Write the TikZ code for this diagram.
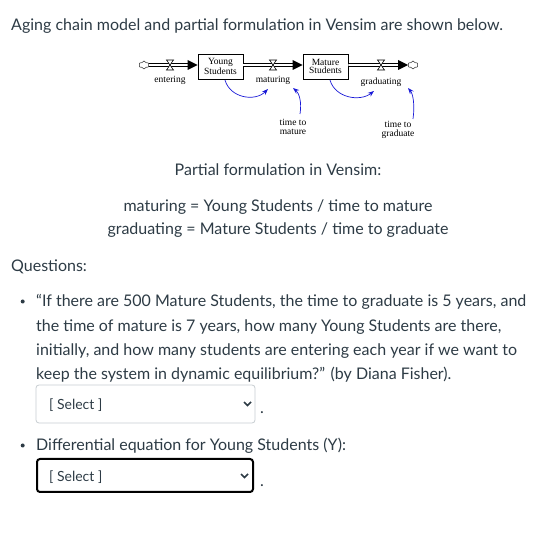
\documentclass[tikz,border=0pt]{standalone}
\usepackage{fontspec}
\setmainfont{Lato}
\newfontfamily\vensim{Liberation Serif}
\usetikzlibrary{arrows.meta, shapes.symbols, positioning}
\definecolor{ink}{HTML}{2D3B45}
\definecolor{linkblue}{RGB}{25,25,215}
\definecolor{selgray}{HTML}{C7CDD1}

\begin{document}
\begin{tikzpicture}[x=1pt, y=1pt, >=Stealth,
        txt/.style={anchor=base west, inner sep=0pt, text=ink, font=\fontsize{16}{19}\selectfont},
        ctxt/.style={txt, anchor=base},
        stock/.style={draw, line width=0.8pt, minimum width=45pt, minimum height=25pt, inner sep=0pt, align=center, font=\vensim\fontsize{9.5}{8.5}\selectfont},
        lbl/.style={inner sep=0pt, align=center, font=\vensim\fontsize{9.5}{9}\selectfont},
        puff/.style={cloud, draw, cloud puffs=6, minimum width=10pt, minimum height=8pt, inner sep=0pt},
        pipe/.style={double, double distance=1.8pt, line width=0.9pt},
        link/.style={->, linkblue, line width=0.7pt},
        selbox/.style={draw=selgray, rounded corners=3pt, line width=0.8pt},
        valve/.pic={\filldraw[fill=white, line width=0.6pt] (-3.5,5) -- (3.5,5) -- (-3.5,-5) -- (3.5,-5) -- cycle;}]
    \useasboundingbox (0,0) rectangle (555,-537);

    % intro
    \node[txt] (intro) at (11,-31) {Aging chain model and partial formulation in Vensim are shown below.};

    % stock and flow diagram
    \node[stock] (young) at (220.5,-66.5) {Young\\Students};
    \node[stock] (mature) at (325.5,-66.5) {Mature\\Students};
    \node[puff] (srcl) at (144,-65) {};
    \node[puff] (sink) at (413,-65) {};
    \coordinate (ventr) at (170,-65);
    \coordinate (vmat) at (273,-65);
    \coordinate (vgrad) at (381,-65);

    \draw[pipe] (srcl.east) -- ([xshift=-8pt]young.west |- ventr);
    \draw[pipe] (young.east |- vmat) -- ([xshift=-8pt]mature.west |- vmat);
    \draw[pipe] (mature.east |- vgrad) -- ([xshift=-8pt]sink.west);
    \fill (young.west |- ventr) -- ++(-10,5) -- ++(0,-10) -- cycle;
    \fill (mature.west |- vmat) -- ++(-10,5) -- ++(0,-10) -- cycle;
    \fill (sink.west) -- ++(-10,5) -- ++(0,-10) -- cycle;
    \pic at (ventr) {valve};
    \pic at (vmat) {valve};
    \pic at (vgrad) {valve};

    \node[lbl, below=11pt of ventr] (entering) {entering};
    \node[lbl, below=11pt of vmat] (maturing) {maturing};
    \node[lbl, below=13pt of vgrad] (graduating) {graduating};
    \node[lbl] (tmature) at (293,-127) {time to\\mature};
    \node[lbl] (tgrad) at (398,-130) {time to\\graduate};

    \draw[link] (225,-80) .. controls (230,-98) and (255,-102) .. (268,-89);
    \draw[link] (300,-114) .. controls (302,-102) and (299,-93) .. (293,-88);
    \draw[link] (330,-80) .. controls (335,-98) and (360,-102) .. (374,-91);
    \draw[link] (413,-119) .. controls (415,-105) and (413,-94) .. (408,-88);

    % formulation
    \node[ctxt] (parthead) at (278,-176) {Partial formulation in Vensim:};
    \node[ctxt] (eqmat) at (278,-212) {maturing = Young Students / time to mature};
    \node[ctxt] (eqgrad) at (278,-235) {graduating = Mature Students / time to graduate};

    % questions
    \node[txt] (qhead) at (11,-272) {Questions:};
    \fill[ink] (22.7,-301.5) circle (2);
    \node[txt] (q1a) at (36,-307) {“If there are 500 Mature Students, the time to graduate is 5 years, and};
    \node[txt] (q1b) at (36,-332) {the time of mature is 7 years, how many Young Students are there,};
    \node[txt] (q1c) at (36,-356) {initially, and how many students are entering each year if we want to};
    \node[txt] (q1d) at (36,-380) {keep the system in dynamic equilibrium?” (by Diana Fisher).};

    \draw[selbox] (36,-385) rectangle (255,-423);
    \node[txt, font=\fontsize{14}{16}\selectfont] (sel1) at (49,-410) {[ Select ]};
    \draw[ink, line width=1.5pt] (244,-402) -- (247.5,-405.5) -- (251,-402);
    \node[txt] (dot1) at (260,-414) {.};

    \fill[ink] (22.7,-445.5) circle (2);
    \node[txt] (q2) at (36,-451) {Differential equation for Young Students (Y):};

    \draw[black, rounded corners=3pt, line width=2pt] (37,-459) rectangle (253,-492);
    \node[txt, font=\fontsize{14}{16}\selectfont] (sel2) at (49,-482) {[ Select ]};
    \draw[ink, line width=1.5pt] (241,-474) -- (244.5,-477.5) -- (248,-474);
    \node[txt] (dot2) at (260,-487) {.};
\end{tikzpicture}
\end{document}
